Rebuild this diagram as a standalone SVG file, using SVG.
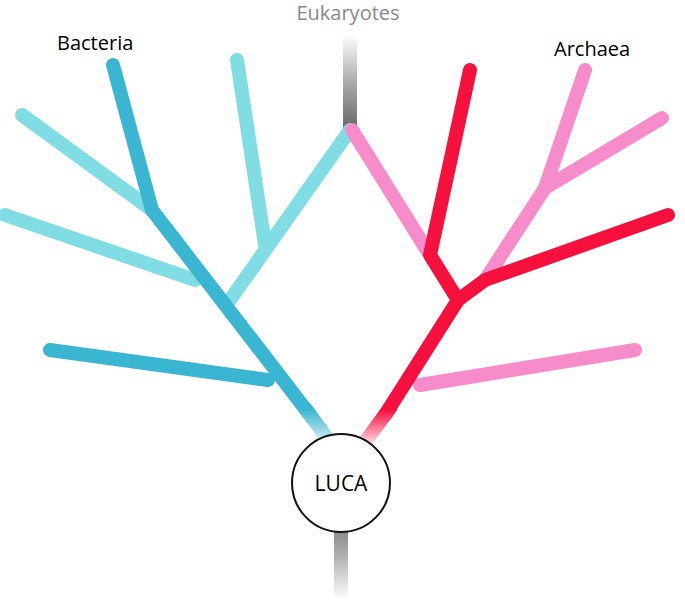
<svg xmlns="http://www.w3.org/2000/svg" width="685" height="604" viewBox="0 0 685 604">
<style>
.b{fill:none;stroke-width:14;stroke-linecap:round;stroke-linejoin:round}
.db{stroke:#3bb6d2}.lb{stroke:#7fdde3}.rd{stroke:#f5103e}.pk{stroke:#f78ccb}
text{font-family:"Open Sans","Liberation Sans",sans-serif}
</style>
<defs>
<linearGradient id="ge" gradientUnits="userSpaceOnUse" x1="0" y1="35" x2="0" y2="130"><stop offset="0" stop-color="#fff"/><stop offset="0.5" stop-color="#aaa"/><stop offset="1" stop-color="#666"/></linearGradient>
<linearGradient id="gl" gradientUnits="userSpaceOnUse" x1="0" y1="505" x2="0" y2="600"><stop offset="0" stop-color="#666"/><stop offset="0.5" stop-color="#aaa"/><stop offset="1" stop-color="#fff"/></linearGradient>
<linearGradient id="gb" gradientUnits="userSpaceOnUse" x1="0" y1="410" x2="0" y2="450"><stop offset="0" stop-color="#3bb6d2"/><stop offset="1" stop-color="#fff"/></linearGradient>
<linearGradient id="gr" gradientUnits="userSpaceOnUse" x1="0" y1="410" x2="0" y2="450"><stop offset="0" stop-color="#f5103e"/><stop offset="1" stop-color="#fff"/></linearGradient>
</defs>
<g id="eukaryotes"><line class="b" x1="350" y1="35" x2="350" y2="128" stroke="url(#ge)"/><text x="348" y="20" font-size="20" fill="#888" text-anchor="middle">Eukaryotes</text></g>
<g id="bacteria">
<path class="b lb" d="M22,115 L152,210"/>
<path class="b lb" d="M5,215 L195,280"/>
<path class="b lb" d="M237,60 L265,245"/>
<path class="b lb" d="M230,300 L350,130"/>
<path class="b db" d="M50,350 L268,380"/>
<path class="b db" d="M113,65 L152,210 L310,415"/>
<path class="b" stroke="url(#gb)" d="M305,408 L330,442"/>
<text x="57" y="50" font-size="20" font-weight="500">Bacteria</text>
</g>
<g id="archaea">
<path class="b pk" d="M352,130 L428,252"/>
<path class="b pk" d="M585,70 L545,188 L485,280"/>
<path class="b pk" d="M545,188 L662,118"/>
<path class="b pk" d="M420,385 L635,350"/>
<path class="b rd" d="M470,70 L430,255 L458,300 L385,415"/>
<path class="b rd" d="M458,300 L485,280 L668,215"/>
<path class="b" stroke="url(#gr)" d="M390,408 L365,442"/>
<text x="554" y="56" font-size="20" font-weight="500">Archaea</text>
</g>
<g id="luca">
<line class="b" x1="341" y1="508" x2="341" y2="598" stroke="url(#gl)"/>
<circle cx="341" cy="483" r="49" fill="#fff" stroke="#111" stroke-width="2"/>
<text x="341" y="491" font-size="21" text-anchor="middle">LUCA</text>
</g>
</svg>
